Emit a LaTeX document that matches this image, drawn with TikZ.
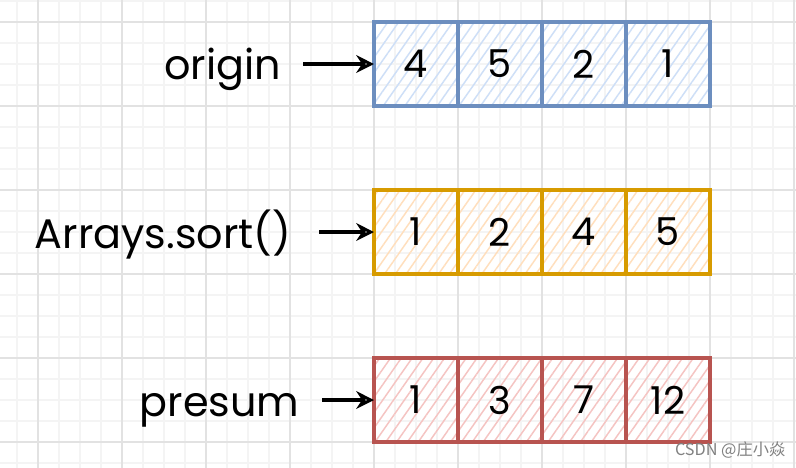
\documentclass[tikz,border=0pt]{standalone}
\usepackage{fontspec}
\setmainfont{Poppins}
\newfontfamily\cjkfont{Noto Sans CJK SC}
\usepackage{xcolor}
\usepackage{tikz}
\usetikzlibrary{positioning,arrows.meta,patterns.meta}

\definecolor{blueline}{HTML}{6C8EBF}
\definecolor{bluehatch}{HTML}{CEDFF7}
\definecolor{orangeline}{HTML}{D79B00}
\definecolor{orangehatch}{HTML}{FFDFBD}
\definecolor{redline}{HTML}{B85450}
\definecolor{redhatch}{HTML}{F5C4C2}
\definecolor{gridmajor}{HTML}{E2E2E2}
\definecolor{gridminor}{HTML}{F4F4F4}

\begin{document}
\begin{tikzpicture}[
    cell/.style={draw, rectangle, minimum width=1cm, minimum height=1cm, outer sep=0pt, line width=1.6pt, font=\fontsize{13}{15}\selectfont},
    bluecell/.style={cell, draw=blueline, pattern={Lines[angle=55,distance=3pt,line width=0.5pt]}, pattern color=bluehatch},
    orangecell/.style={cell, draw=orangeline, pattern={Lines[angle=55,distance=3pt,line width=0.5pt]}, pattern color=orangehatch},
    redcell/.style={cell, draw=redline, pattern={Lines[angle=55,distance=3pt,line width=0.5pt]}, pattern color=redhatch},
    lbl/.style={inner sep=0pt, font=\fontsize{14}{16}\selectfont},
    arrow/.style={-{Stealth[open, length=6pt, width=6pt]}, line width=1.2pt},
    wmark/.style={inner sep=0pt, text=gray, font=\cjkfont\fontsize{5.5}{6}\selectfont}
]

% background and grid
\fill[white] (-0.452,0.262) rectangle (9.024,-5.309);
\useasboundingbox (-0.452,0.262) rectangle (9.024,-5.309);
\draw[gridminor, line width=0.4pt] (-0.452,0.262) grid[step=0.25] (9.024,-5.309);
\draw[gridmajor, line width=0.5pt] (-0.452,0.262) grid[step=1] (9.024,-5.309);

% origin
\node[bluecell] (o1) at (4.5,-0.5) {4};
\node[bluecell, right=0pt of o1] (o2) {5};
\node[bluecell, right=0pt of o2] (o3) {2};
\node[bluecell, right=0pt of o3] (o4) {1};

% sorted
\node[orangecell, below=1cm of o1] (s1) {1};
\node[orangecell, right=0pt of s1] (s2) {2};
\node[orangecell, right=0pt of s2] (s3) {4};
\node[orangecell, right=0pt of s3] (s4) {5};

% prefix sums
\node[redcell, below=1cm of s1] (p1) {1};
\node[redcell, right=0pt of p1] (p2) {3};
\node[redcell, right=0pt of p2] (p3) {7};
\node[redcell, right=0pt of p3] (p4) {12};

\node[lbl, left=1.1cm of o1, yshift=-0.06cm] (origin) {origin};
\node[lbl, left=0.98cm of s1, yshift=-0.03cm] (sorted) {Arrays.sort()};
\node[lbl, left=0.88cm of p1, yshift=-0.12cm] (presum) {presum};

\draw[arrow, shorten <=0.26cm] (origin.east |- o1) -- (o1);
\draw[arrow, shorten <=0.33cm] (sorted.east |- s1) -- (s1);
\draw[arrow, shorten <=0.26cm] (presum.east |- p1) -- (p1);

\node[wmark] (wm) at (8.24,-5.095) {CSDN @庄小焱};

\end{tikzpicture}
\end{document}
